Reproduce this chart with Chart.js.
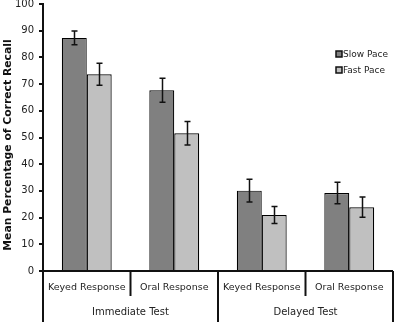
<!DOCTYPE html>
<html>
<head>
<meta charset="utf-8">
<script src="https://cdn.jsdelivr.net/npm/chart.js@4.4.1/dist/chart.umd.min.js"></script>
<style>
  html, body { margin: 0; padding: 0; background: #fff; }
  #wrap { width: 396px; height: 322px; position: relative; }
</style>
</head>
<body>
<div id="wrap"><canvas id="grafico"></canvas></div>
<script>
// datos
const categorias = ["Keyed Response", "Oral Response", "Keyed Response", "Oral Response"];
const grupos = ["Immediate Test", "Delayed Test"];
const lentos = [87.3, 67.7, 30.1, 29.2];
const lentosErr = [2.6, 4.5, 4.3, 4.0];
const rapidos = [73.7, 51.6, 21.0, 23.9];
const rapidosErr = [4.1, 4.4, 3.2, 3.8];
const etiquetasSerie = ["Slow Pace", "Fast Pace"];
const coloresSerie = ["#808080", "#c0c0c0"];
const errores = [lentosErr, rapidosErr];

const fuente = "DejaVu Sans";

// barras de error
const barrasError = {
    id: "barrasError",
    afterDatasetsDraw(chart) {
        const ctx = chart.ctx;
        const y = chart.scales.y;
        ctx.save();
        ctx.strokeStyle = "#111";
        ctx.lineWidth = 1.5;
        chart.data.datasets.forEach((ds, d) => {
            const meta = chart.getDatasetMeta(d);
            meta.data.forEach((bar, i) => {
                const v = ds.data[i];
                const e = errores[d][i];
                const yt = y.getPixelForValue(v + e);
                const yb = y.getPixelForValue(v - e);
                const x = Math.round(bar.x) + 0.5;
                ctx.beginPath();
                ctx.moveTo(x, yt); ctx.lineTo(x, yb);
                ctx.moveTo(x - 3, yt); ctx.lineTo(x + 3, yt);
                ctx.moveTo(x - 3, yb); ctx.lineTo(x + 3, yb);
                ctx.stroke();
            });
        });
        ctx.restore();
    }
};

// eje x en dos niveles, título del eje y, leyenda
const ejeX = {
    id: "ejeX",
    afterDraw(chart) {
        const ctx = chart.ctx;
        const area = chart.chartArea;
        const x = chart.scales.x;
        const n = categorias.length;
        const paso = (area.right - area.left) / n;
        const base = area.bottom;
        ctx.save();
        ctx.strokeStyle = "#111";
        ctx.lineWidth = 2;
        // línea base
        ctx.beginPath();
        ctx.moveTo(area.left - 1, base); ctx.lineTo(area.right, base);
        ctx.stroke();
        // separadores
        for (let i = 0; i <= n; i++) {
            const xx = area.left + i * paso;
            const largo = (i % 2 === 0) ? 322 : base + 25;
            ctx.beginPath();
            ctx.moveTo(xx, base); ctx.lineTo(xx, largo);
            ctx.stroke();
        }
        ctx.fillStyle = "#222";
        ctx.textAlign = "center";
        ctx.textBaseline = "middle";
        ctx.font = "9.5px '" + fuente + "'";
        categorias.forEach((c, i) => {
            ctx.fillText(c, x.getPixelForValue(i), base + 17);
        });
        ctx.font = "10px '" + fuente + "'";
        grupos.forEach((g, j) => {
            const cx = (x.getPixelForValue(2 * j) + x.getPixelForValue(2 * j + 1)) / 2;
            ctx.fillText(g, cx, base + 41);
        });
        // título eje y
        ctx.save();
        ctx.translate(8, 145);
        ctx.rotate(-Math.PI / 2);
        ctx.fillStyle = "#111";
        ctx.font = "bold 10.8px '" + fuente + "'";
        ctx.fillText("Mean Percentage of Correct Recall", 0, 0);
        ctx.restore();
        // leyenda
        ctx.textAlign = "left";
        ctx.font = "9px '" + fuente + "'";
        etiquetasSerie.forEach((s, k) => {
            const ly = 54 + k * 16;
            ctx.fillStyle = coloresSerie[k];
            ctx.fillRect(336, ly - 3, 6, 6);
            ctx.lineWidth = 1.5;
            ctx.strokeRect(336, ly - 3, 6, 6);
            ctx.fillStyle = "#222";
            ctx.fillText(s, 343, ly + 0.5);
        });
        ctx.restore();
    }
};

const ctx = document.getElementById("grafico").getContext("2d");
new Chart(ctx, {
    type: "bar",
    data: {
        labels: categorias,
        datasets: [
            { label: etiquetasSerie[0], data: lentos, backgroundColor: coloresSerie[0] },
            { label: etiquetasSerie[1], data: rapidos, backgroundColor: coloresSerie[1] }
        ]
    },
    options: {
        responsive: true,
        maintainAspectRatio: false,
        animation: false,
        datasets: {
            bar: {
                categoryPercentage: 0.57,
                barPercentage: 1,
                borderColor: "#000",
                borderWidth: 1.2
            }
        },
        layout: { padding: { left: 0, right: 3, top: 4, bottom: 51 } },
        plugins: {
            legend: { display: false },
            tooltip: { enabled: false }
        },
        scales: {
            x: { display: false },
            y: {
                min: 0,
                max: 100,
                ticks: {
                    stepSize: 10,
                    color: "#222",
                    font: { family: fuente, size: 10 },
                    padding: 5
                },
                grid: {
                    display: true,
                    drawOnChartArea: false,
                    tickLength: 4,
                    color: "#111",
                    lineWidth: 2
                },
                border: { display: true, color: "#111", width: 2 },
                afterFit(s) {
                    s.width = 43;
                    s.paddingTop = 0;
                    s.paddingBottom = 0;
                }
            }
        }
    },
    plugins: [barrasError, ejeX]
});
</script>
</body>
</html>
